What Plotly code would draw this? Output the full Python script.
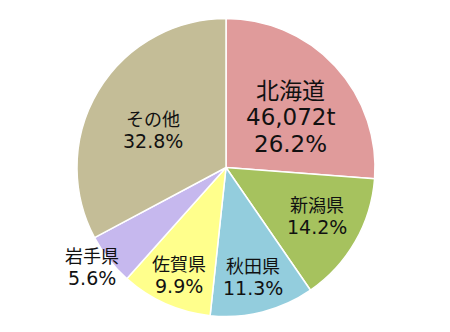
import math
import plotly.graph_objects as go

categories = ["北海道", "新潟県", "秋田県", "佐賀県", "岩手県", "その他"]
shares = [26.2, 14.2, 11.3, 9.9, 5.6, 32.8]
tonnage_hokkaido = "46,072t"
colors = ["#E09B9B", "#A6C25E", "#93CDDD", "#FFFF8C", "#C6B8EE", "#C4BD97"]
label_radius = [0.55, 0.69, 0.76, 0.79, 1.12, 0.55]
label_angle_nudge = [5.0, -1.6, 0.4, -0.4, 1.5, -4.0]  # degrees
big = 0  # index of the emphasised slice

W, H = 450, 332
cx, cy, R = 226, 167.5, 149
FONT = "DejaVu Sans, Noto Sans CJK JP"

fig = go.Figure(go.Pie(
    labels=categories, values=shares, sort=False, direction="clockwise",
    rotation=0, marker=dict(colors=colors, line=dict(color="white", width=1.5)),
    textinfo="none", hoverinfo="label+percent",
    domain=dict(x=[(cx - R) / W, (cx + R) / W], y=[1 - (cy + R) / H, 1 - (cy - R) / H]),
    showlegend=False,
))

total = sum(shares)
cum = 0
for i, (cat, v) in enumerate(zip(categories, shares)):
    mid = (cum + v / 2) / total * 2 * math.pi + math.radians(label_angle_nudge[i])
    cum += v
    r = R * label_radius[i]
    px = cx + r * math.sin(mid)
    py = cy - r * math.cos(mid)
    if i == big:
        lines = [(cat, 23, -26.5), (tonnage_hokkaido, 23, 0), (f"{v:.1f}%", 23, 26.5)]
    else:
        lines = [(cat, 18, -11), (f"{v:.1f}%", 19, 11)]
    for txt, sz, dy in lines:
        fig.add_annotation(x=px / W, y=1 - (py + dy) / H, xref="paper", yref="paper",
                           text=txt, showarrow=False, xanchor="center", yanchor="middle",
                           borderpad=0,
                           font=dict(size=sz, color="#111111", family=FONT))

fig.update_layout(width=W, height=H, margin=dict(l=0, r=0, t=0, b=0),
                  paper_bgcolor="white", plot_bgcolor="white")
fig.write_html("out.html")
